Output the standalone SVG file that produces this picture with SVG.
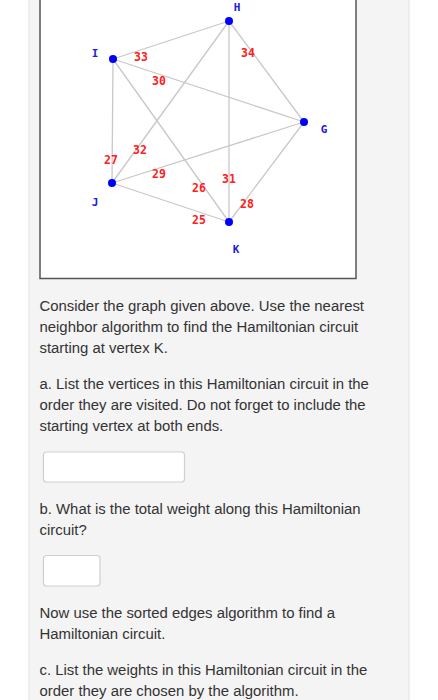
<svg xmlns="http://www.w3.org/2000/svg" width="438" height="700" viewBox="0 0 438 700">
<style>
.edge{stroke:#c8c8c8;stroke-width:1.3;fill:none}
.node{fill:#0000ff}
.vl{font-family:"DejaVu Sans Mono","Liberation Mono",monospace;font-weight:bold;font-size:11px;fill:#2020e0;text-anchor:middle}
.wl{font-family:"DejaVu Sans Mono","Liberation Mono",monospace;font-weight:bold;font-size:11.5px;fill:#ff2020;text-anchor:middle}
.q{font-family:"Liberation Sans",Arial,sans-serif;font-size:14.9px;fill:#333}
.box{fill:#fff;stroke:#cfcfcf;stroke-width:1.2}
</style>
<rect x="0" y="0" width="438" height="700" fill="#ffffff"/>
<rect x="29" y="-2" width="380" height="704" fill="#f4f4f4" stroke="#e4e4e4" stroke-width="1"/>
<rect x="40" y="-2" width="316" height="280.5" fill="#ffffff" stroke="#555" stroke-width="1.5"/>
<g id="edges">
<line class="edge" x1="229" y1="21" x2="113" y2="59"/>
<line class="edge" x1="229" y1="21" x2="304" y2="122"/>
<line class="edge" x1="229" y1="21" x2="112" y2="183"/>
<line class="edge" x1="229" y1="21" x2="229" y2="222"/>
<line class="edge" x1="113" y1="59" x2="304" y2="122"/>
<line class="edge" x1="113" y1="59" x2="112" y2="183"/>
<line class="edge" x1="113" y1="59" x2="229" y2="222"/>
<line class="edge" x1="304" y1="122" x2="112" y2="183"/>
<line class="edge" x1="304" y1="122" x2="229" y2="222"/>
<line class="edge" x1="112" y1="183" x2="229" y2="222"/>
</g>
<g id="weights">
<text class="wl" x="141" y="61">33</text>
<text class="wl" x="159" y="85">30</text>
<text class="wl" x="248" y="57">34</text>
<text class="wl" x="140" y="154">32</text>
<text class="wl" x="111" y="164">27</text>
<text class="wl" x="159" y="178">29</text>
<text class="wl" x="199" y="192">26</text>
<text class="wl" x="229" y="183">31</text>
<text class="wl" x="247" y="208">28</text>
<text class="wl" x="199" y="224">25</text>
</g>
<g id="node-H"><circle class="node" cx="229" cy="21" r="4"/><text class="vl" x="237" y="11">H</text></g>
<g id="node-I"><circle class="node" cx="113" cy="59" r="4"/><text class="vl" x="95" y="57">I</text></g>
<g id="node-G"><circle class="node" cx="304" cy="122" r="4"/><text class="vl" x="324" y="133">G</text></g>
<g id="node-J"><circle class="node" cx="112" cy="183" r="4"/><text class="vl" x="95" y="206">J</text></g>
<g id="node-K"><circle class="node" cx="229" cy="222" r="4"/><text class="vl" x="236" y="253">K</text></g>
<g id="text">
<text class="q" x="39.5" y="311">Consider the graph given above. Use the nearest</text>
<text class="q" x="39.5" y="332">neighbor algorithm to find the Hamiltonian circuit</text>
<text class="q" x="39.5" y="353">starting at vertex K.</text>
<text class="q" x="39.5" y="389">a. List the vertices in this Hamiltonian circuit in the</text>
<text class="q" x="39.5" y="410">order they are visited. Do not forget to include the</text>
<text class="q" x="39.5" y="431">starting vertex at both ends.</text>
<text class="q" x="39.5" y="513.5">b. What is the total weight along this Hamiltonian</text>
<text class="q" x="39.5" y="534.5">circuit?</text>
<text class="q" x="39.5" y="618">Now use the sorted edges algorithm to find a</text>
<text class="q" x="39.5" y="639">Hamiltonian circuit.</text>
<text class="q" x="39.5" y="674.5">c. List the weights in this Hamiltonian circuit in the</text>
<text class="q" x="39.5" y="695.5">order they are chosen by the algorithm.</text>
</g>
<g id="inputs">
<rect class="box" x="43.5" y="452" width="141" height="30" rx="3"/>
<rect class="box" x="43.5" y="555.5" width="56.5" height="30.5" rx="3"/>
</g>
</svg>
